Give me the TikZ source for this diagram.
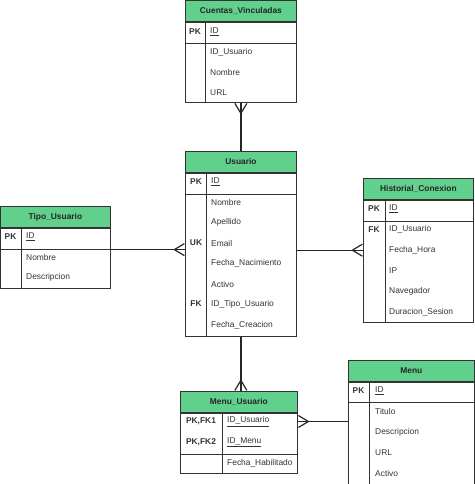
\documentclass[tikz,border=0pt]{standalone}
\usepackage{fontspec}
\setmainfont{Liberation Sans}
\usetikzlibrary{arrows.meta}
\definecolor{headgreen}{RGB}{96,208,140}
\begin{document}
\begin{tikzpicture}[x=1pt,y=-1pt,
    tbox/.style={draw=black!80,line width=0.8pt,anchor=north west,inner sep=0pt},
    thead/.style={tbox,fill=headgreen,minimum height=21pt,font=\bfseries\fontsize{8.4}{10}\selectfont,text=black!85},
    tline/.style={draw=black!80,line width=0.8pt},
    fld/.style={anchor=west,inner sep=0pt,font=\fontsize{8.4}{10}\selectfont,text=black!80},
    key/.style={anchor=center,inner sep=0pt,font=\bfseries\fontsize{8.4}{10}\selectfont,text=black!80},
    rel/.style={draw=black!85,line width=1.2pt,-{Straight Barb[reversed,length=10pt,width=12pt]},
      postaction={draw=black!85,line width=1.2pt,arrows=-}}]
  \useasboundingbox (0,0) rectangle (474,484);

  % Cuentas_Vinculadas
  \node[tbox,minimum width=111pt,minimum height=102pt] (cuentas) at (185,0) {};
  \node[thead,minimum width=111pt] (cuentasH) at (cuentas.north west) {Cuentas\_Vinculadas};
  \node[tbox,minimum width=111pt,minimum height=21pt] (cuentasPK) at (cuentasH.south west) {};
  \draw[tline] ([xshift=20pt]cuentasH.south west) -- ([xshift=20pt]cuentas.south west);
  \node[key] (cuentasK) at (195,31.5) {PK};
  \node[fld] (cuentasF0) at (210,31.5) {\underline{ID}};
  \foreach \f [count=\i] in {ID\_Usuario,Nombre,URL}
    \node[fld] (cuentasF\i) at (210,{31.5+20.4*\i}) {\f};

  % Usuario
  \node[tbox,minimum width=111pt,minimum height=185pt] (usuario) at (185,151) {};
  \node[thead,minimum width=111pt] (usuarioH) at (usuario.north west) {Usuario};
  \node[tbox,minimum width=111pt,minimum height=21pt] (usuarioPK) at (usuarioH.south west) {};
  \draw[tline] ([xshift=21pt]usuarioH.south west) -- ([xshift=21pt]usuario.south west);
  \node[key] (usuarioK1) at (196,181.5) {PK};
  \node[key] (usuarioK2) at (196,242.5) {UK};
  \node[key] (usuarioK3) at (196,304) {FK};
  \node[fld] (usuarioF0) at (211,181.5) {\underline{ID}};
  \foreach \f [count=\i] in {Nombre,Apellido,Email,Fecha\_Nacimiento,Activo,ID\_Tipo\_Usuario,Fecha\_Creacion}
    \node[fld] (usuarioF\i) at (211,{181.5+20.5*\i}) {\f};

  % Tipo_Usuario
  \node[tbox,minimum width=110pt,minimum height=82pt] (tipo) at (0,206) {};
  \node[thead,minimum width=110pt] (tipoH) at (tipo.north west) {Tipo\_Usuario};
  \node[tbox,minimum width=110pt,minimum height=21pt] (tipoPK) at (tipoH.south west) {};
  \draw[tline] ([xshift=21pt]tipoH.south west) -- ([xshift=21pt]tipo.south west);
  \node[key] (tipoK) at (10.5,236.5) {PK};
  \node[fld] (tipoF0) at (26,236.5) {\underline{ID}};
  \foreach \f [count=\i] in {Nombre,Descripcion}
    \node[fld] (tipoF\i) at (26,{236.5+20.5*\i}) {\f};

  % Historial_Conexion
  \node[tbox,minimum width=110pt,minimum height=144pt] (hist) at (363,178) {};
  \node[thead,minimum width=110pt] (histH) at (hist.north west) {Historial\_Conexion};
  \node[tbox,minimum width=110pt,minimum height=21pt] (histPK) at (histH.south west) {};
  \draw[tline] ([xshift=22pt]histH.south west) -- ([xshift=22pt]hist.south west);
  \node[key] (histK1) at (374,209) {PK};
  \node[key] (histK2) at (374,229.5) {FK};
  \node[fld] (histF0) at (389,209) {\underline{ID}};
  \foreach \f [count=\i] in {ID\_Usuario,Fecha\_Hora,IP,Navegador,Duracion\_Sesion}
    \node[fld] (histF\i) at (389,{209+20.6*\i}) {\f};

  % Menu_Usuario
  \node[tbox,minimum width=117pt,minimum height=82pt] (mu) at (180,391) {};
  \node[thead,minimum width=117pt] (muH) at (mu.north west) {Menu\_Usuario};
  \node[tbox,minimum width=117pt,minimum height=41pt] (muPK) at (muH.south west) {};
  \draw[tline] ([xshift=42pt]muH.south west) -- ([xshift=42pt]mu.south west);
  \node[key] (muK1) at (201,421.5) {PK,FK1};
  \node[key] (muK2) at (201,442) {PK,FK2};
  \node[fld] (muF1) at (227,421.5) {\underline{ID\_Usuario}};
  \node[fld] (muF2) at (227,442) {\underline{ID\_Menu}};
  \node[fld] (muF3) at (227,463) {Fecha\_Habilitado};

  % Menu
  \node[tbox,minimum width=126pt,minimum height=135pt] (menu) at (348,360) {};
  \node[thead,minimum width=126pt] (menuH) at (menu.north west) {Menu};
  \node[tbox,minimum width=126pt,minimum height=20pt] (menuPK) at (menuH.south west) {};
  \draw[tline] ([xshift=21pt]menuH.south west) -- ([xshift=21pt]menu.south west);
  \node[key] (menuK) at (358.5,391) {PK};
  \node[fld] (menuF0) at (375,391) {\underline{ID}};
  \foreach \f [count=\i] in {Titulo,Descripcion,URL,Activo}
    \node[fld] (menuF\i) at (375,{391+20.5*\i}) {\f};

  % relations
  \draw[rel] (usuarioH.north) -- (cuentas.south);
  \draw[rel] (tipoPK.south east) -- (usuario.west |- tipoPK.south east);
  \draw[rel] (usuario.east |- histF2) -- (hist.west |- histF2);
  \draw[rel] (usuario.south) -- (usuario.south |- muH.north);
  \draw[rel] (menu.west |- muF1) -- (mu.east |- muF1);
\end{tikzpicture}
\end{document}
